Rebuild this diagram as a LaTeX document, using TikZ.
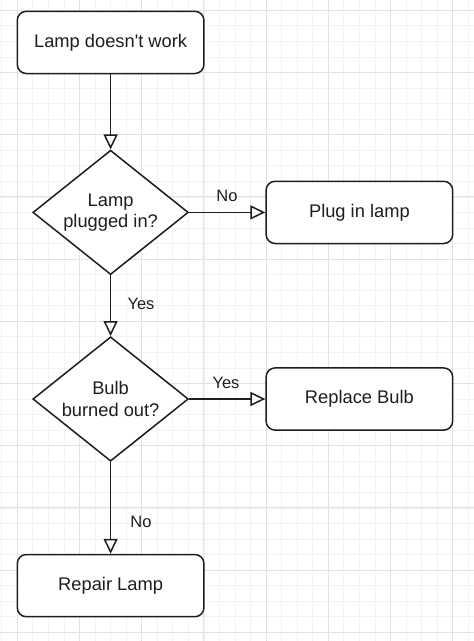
\documentclass[tikz,border=0pt]{standalone}
\usepackage{fontspec}
\setmainfont{Liberation Sans}
\usetikzlibrary{arrows.meta,shapes.geometric}
\definecolor{minorgrid}{HTML}{F3F3F3}
\definecolor{majorgrid}{HTML}{E2E2E2}
\definecolor{ink}{HTML}{1E1E1E}
\begin{document}
\begin{tikzpicture}[x=1pt,y=-1pt,
  stepbox/.style={draw=ink,line width=1.5pt,rounded corners=9pt,fill=white,
    minimum width=186.6pt,minimum height=62.2pt,inner sep=0pt,
    font=\fontsize{18.3pt}{21pt}\selectfont,text=ink},
  decision/.style={draw=ink,line width=1.5pt,diamond,fill=white,aspect=1.25,
    minimum width=155.5pt,minimum height=124.4pt,inner sep=0pt,align=center,
    font=\fontsize{18.3pt}{21.5pt}\selectfont,text=ink},
  flow/.style={draw=ink,line width=1.5pt,-{Triangle[open,length=15pt,width=14pt,line width=1.5pt]}},
  lbl/.style={font=\fontsize{16.5pt}{18pt}\selectfont,text=ink,inner sep=0pt}
]
\useasboundingbox (0,0) rectangle (474,641);
\fill[white] (0,0) rectangle (474,641);
% minor grid
\foreach \i in {-1,...,30} {
  \draw[minorgrid,line width=0.8pt] ({17.3+15.55*\i},0) -- ({17.3+15.55*\i},641);
}
\foreach \i in {-1,...,41} {
  \draw[minorgrid,line width=0.8pt] (0,{10.3+15.55*\i}) -- (474,{10.3+15.55*\i});
}
% major grid
\foreach \i in {0,...,7} {
  \draw[majorgrid,line width=1pt] ({17.3+62.2*\i},0) -- ({17.3+62.2*\i},641);
}
\foreach \i in {0,...,10} {
  \draw[majorgrid,line width=1pt] (0,{10.3+62.2*\i}) -- (474,{10.3+62.2*\i});
}
% nodes
\node[stepbox] (start) at (110.6,42.4) {Lamp doesn\textquotesingle t work};
\node[decision] (d1) at (110.6,212.4) {Lamp\\plugged in?};
\node[stepbox] (plug) at (359.4,212.4) {Plug in lamp};
\node[decision] (d2) at (110.6,399) {Bulb\\burned out?};
\node[stepbox] (bulb) at (359.4,399) {Replace Bulb};
\node[stepbox] (repair) at (110.6,585.6) {Repair Lamp};
% connectors
\draw[flow] (start) -- (d1);
\draw[flow] (d1.east) -- (plug.west);
\draw[flow] (d1.south) -- (d2.north);
\draw[flow] (d2.east) -- (bulb.west);
\draw[flow] (d2.south) -- (repair.north);
% labels
\node[lbl] (l1) at (227,196) {No};
\node[lbl] (l2) at (141,304) {Yes};
\node[lbl] (l3) at (226,383) {Yes};
\node[lbl] (l4) at (141,522) {No};
\end{tikzpicture}
\end{document}
